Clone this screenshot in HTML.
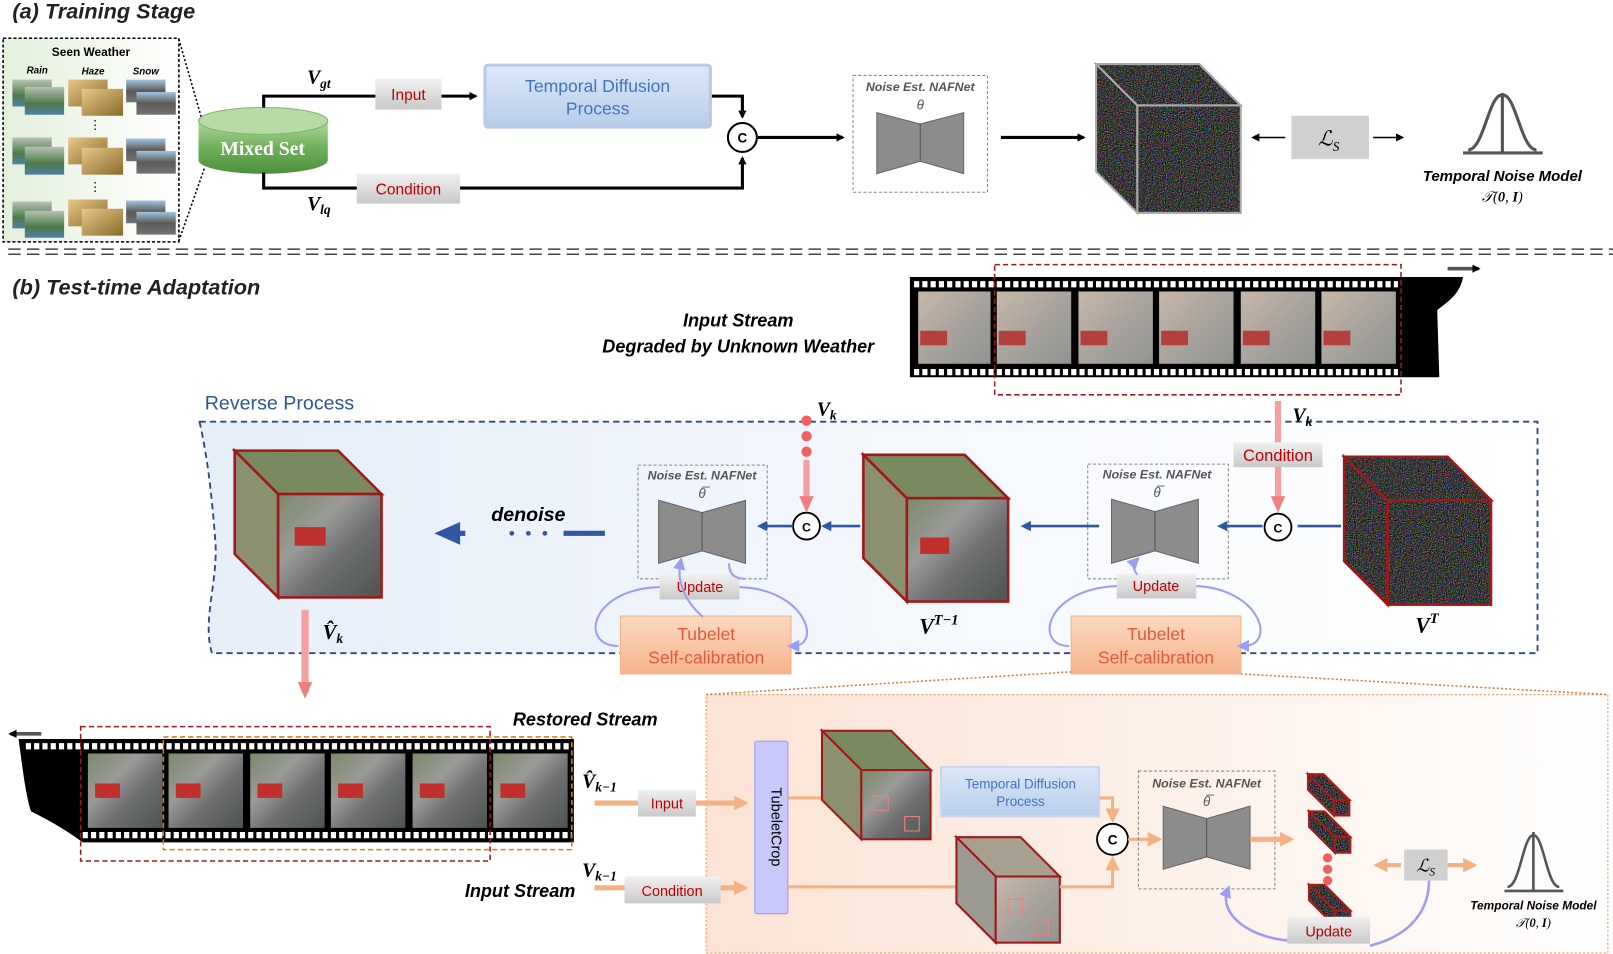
<!DOCTYPE html>
<html><head><meta charset="utf-8"><style>
html,body{margin:0;padding:0;background:#fff;}
svg{display:block;}
text{font-family:"Liberation Sans",sans-serif;}
.bi{font-weight:bold;font-style:italic;}
.ser{font-family:"Liberation Serif",serif;}
</style></head><body>
<svg width="1613" height="954" viewBox="0 0 1560 923" preserveAspectRatio="none" xmlns="http://www.w3.org/2000/svg">
<defs>
<filter id="nz" x="0" y="0" width="100%" height="100%" color-interpolation-filters="sRGB"><feTurbulence type="fractalNoise" baseFrequency="1.1" numOctaves="1" seed="3"/><feColorMatrix type="matrix" values="2.0 0.3 0 0 -0.95  0 2.0 0.3 0 -0.95  0.3 0 2.0 0 -0.95  0 0 0 0 1"/></filter>
<pattern id="np" width="120" height="120" patternUnits="userSpaceOnUse"><rect width="120" height="120" filter="url(#nz)"/></pattern>
<linearGradient id="street" x1="0" y1="0" x2="1" y2="1"><stop offset="0" stop-color="#7c8a6a"/><stop offset="0.35" stop-color="#9a9a98"/><stop offset="0.6" stop-color="#6d6e70"/><stop offset="1" stop-color="#4e5450"/></linearGradient>
<linearGradient id="rainy" x1="0" y1="0" x2="1" y2="1"><stop offset="0" stop-color="#c7b8a8"/><stop offset="0.5" stop-color="#a9a39e"/><stop offset="1" stop-color="#8f9490"/></linearGradient>
<linearGradient id="green" x1="0" y1="0" x2="0" y2="1"><stop offset="0" stop-color="#b2d8a0"/><stop offset="0.5" stop-color="#6fb05a"/><stop offset="1" stop-color="#4d8f3c"/></linearGradient>
<linearGradient id="blueB" x1="0" y1="0" x2="0" y2="1"><stop offset="0" stop-color="#dce8f7"/><stop offset="1" stop-color="#b8cdeb"/></linearGradient>
<linearGradient id="grayB" x1="0" y1="0" x2="0" y2="1"><stop offset="0" stop-color="#f0f0f0"/><stop offset="1" stop-color="#c9c9c9"/></linearGradient>
<linearGradient id="orB" x1="0" y1="0" x2="0" y2="1"><stop offset="0" stop-color="#fcd9c0"/><stop offset="1" stop-color="#f6b48e"/></linearGradient>
<linearGradient id="revBg" x1="0" y1="0" x2="1" y2="0"><stop offset="0" stop-color="#e6eef8"/><stop offset="0.6" stop-color="#f6f9fd"/><stop offset="1" stop-color="#ffffff"/></linearGradient>
<linearGradient id="peach" x1="0" y1="0" x2="1" y2="0"><stop offset="0" stop-color="#fbe3d5"/><stop offset="0.6" stop-color="#fdf3ec"/><stop offset="1" stop-color="#ffffff"/></linearGradient>
<linearGradient id="seenBg" x1="0" y1="0" x2="1" y2="0"><stop offset="0" stop-color="#e4efdc"/><stop offset="1" stop-color="#ffffff"/></linearGradient>
<linearGradient id="haze" x1="0" y1="0" x2="1" y2="1"><stop offset="0" stop-color="#e8c98a"/><stop offset="1" stop-color="#8a6a2a"/></linearGradient>
<linearGradient id="snow" x1="0" y1="0" x2="0" y2="1"><stop offset="0" stop-color="#9fc6e4"/><stop offset="0.5" stop-color="#5d5a55"/><stop offset="1" stop-color="#6f7478"/></linearGradient>
<linearGradient id="rain" x1="0" y1="0" x2="0" y2="1"><stop offset="0" stop-color="#b6c3b4"/><stop offset="0.6" stop-color="#4d7a48"/><stop offset="1" stop-color="#4f7fa8"/></linearGradient>
<marker id="ak" markerWidth="8" markerHeight="8" refX="6" refY="4" orient="auto" markerUnits="userSpaceOnUse"><path d="M0,0 L8,4 L0,8z" fill="#000"/></marker>
<marker id="ab" markerWidth="10" markerHeight="10" refX="7" refY="5" orient="auto" markerUnits="userSpaceOnUse"><path d="M0,0 L10,5 L0,10z" fill="#2f58a0"/></marker>
<marker id="ao" markerWidth="14" markerHeight="14" refX="10" refY="7" orient="auto" markerUnits="userSpaceOnUse"><path d="M0,0 L14,7 L0,14z" fill="#f4b183"/></marker>
<marker id="ap" markerWidth="12" markerHeight="12" refX="6" refY="6" orient="auto" markerUnits="userSpaceOnUse"><path d="M0,0 L12,6 L0,12z" fill="#9e9ef0"/></marker>
<marker id="ar" markerWidth="16" markerHeight="14" refX="10" refY="7" orient="auto" markerUnits="userSpaceOnUse"><path d="M0,0 L16,7 L0,14z" fill="#f08080"/></marker>
</defs>

<!-- (a) -->
<text x="12" y="18" font-size="21" class="bi" fill="#222">(a) Training Stage</text>
<rect x="3" y="37" width="170" height="197" fill="url(#seenBg)" stroke="#000" stroke-dasharray="3,2" stroke-width="1.5"/>
<text x="88" y="54" font-size="11.5" font-weight="bold" text-anchor="middle">Seen Weather</text>
<text x="36" y="71" font-size="9.5" class="bi" text-anchor="middle">Rain</text>
<text x="90" y="72" font-size="9.5" class="bi" text-anchor="middle">Haze</text>
<text x="141" y="72" font-size="9.5" class="bi" text-anchor="middle">Snow</text>
<g>
<rect x="12" y="77" width="38" height="26" fill="url(#rain)"/><rect x="24" y="84" width="38" height="27" fill="url(#rain)"/>
<rect x="66" y="77" width="38" height="26" fill="url(#haze)"/><rect x="79" y="86" width="40" height="26" fill="url(#haze)"/>
<rect x="122" y="77" width="38" height="22" fill="url(#snow)"/><rect x="132" y="89" width="38" height="22" fill="url(#snow)"/>
<rect x="12" y="133" width="38" height="26" fill="url(#rain)"/><rect x="24" y="142" width="38" height="27" fill="url(#rain)"/>
<rect x="66" y="133" width="38" height="26" fill="url(#haze)"/><rect x="79" y="143" width="40" height="26" fill="url(#haze)"/>
<rect x="122" y="134" width="38" height="22" fill="url(#snow)"/><rect x="132" y="146" width="38" height="22" fill="url(#snow)"/>
<rect x="12" y="195" width="38" height="26" fill="url(#rain)"/><rect x="24" y="204" width="38" height="26" fill="url(#rain)"/>
<rect x="66" y="193" width="38" height="26" fill="url(#haze)"/><rect x="79" y="202" width="40" height="26" fill="url(#haze)"/>
<rect x="122" y="194" width="38" height="22" fill="url(#snow)"/><rect x="132" y="205" width="38" height="22" fill="url(#snow)"/>
<text x="92" y="125" font-size="12" text-anchor="middle">⋮</text><text x="92" y="185" font-size="12" text-anchor="middle">⋮</text>
</g>
<path d="M173,38 L198,125 M173,233 L198,162" stroke="#000" stroke-dasharray="2,2" stroke-width="1.5"/>
<path d="M192,117 L192,155 A62,13 0 0 0 317,155 L317,117 Z" fill="url(#green)"/>
<ellipse cx="254.5" cy="117" rx="62.5" ry="13" fill="#b8dba6" stroke="#7ab86a"/>
<text x="254" y="150" class="ser" font-size="19" font-weight="bold" fill="#fff" text-anchor="middle">Mixed Set</text>
<path d="M255,104 L255,93 L460,93" stroke="#000" stroke-width="3" fill="none" marker-end="url(#ak)"/>
<path d="M255,167 L255,182 L718,182 L718,153" stroke="#000" stroke-width="3" fill="none" marker-end="url(#ak)"/>
<path d="M687,93 L718,93 L718,113" stroke="#000" stroke-width="3" fill="none" marker-end="url(#ak)"/>
<text x="297" y="81" class="ser bi" font-size="19">V<tspan font-size="13" dy="4">gt</tspan></text>
<text x="297" y="203" class="ser bi" font-size="19">V<tspan font-size="13" dy="4">lq</tspan></text>
<rect x="363" y="76" width="64" height="30" fill="url(#grayB)"/><text x="395" y="97" font-size="15" fill="#c00000" text-anchor="middle">Input</text>
<rect x="345" y="168" width="100" height="29" fill="url(#grayB)"/><text x="395" y="188" font-size="15" fill="#c00000" text-anchor="middle">Condition</text>
<rect x="469" y="63" width="218" height="60" rx="3" fill="url(#blueB)" stroke="#b9c9e6" stroke-width="3"/>
<text x="578" y="89" font-size="17" fill="#4472c4" text-anchor="middle">Temporal Diffusion</text>
<text x="578" y="111" font-size="17" fill="#4472c4" text-anchor="middle">Process</text>
<circle cx="718" cy="133" r="14" fill="#fff" stroke="#000" stroke-width="2"/><text x="718" y="138" font-size="13" font-weight="bold" text-anchor="middle">C</text>
<path d="M733,133 L815,133" stroke="#000" stroke-width="3" marker-end="url(#ak)"/>
<rect x="825" y="73" width="130" height="113" fill="none" stroke="#888" stroke-dasharray="3,2"/>
<text x="890" y="88" font-size="12" class="bi" fill="#555" text-anchor="middle">Noise Est. NAFNet</text>
<text x="890" y="106" font-size="13" font-style="italic" fill="#555" text-anchor="middle">θ</text>
<path d="M848,109 L890,120 L932,109 L932,168 L890,156 L848,168Z" fill="#8c8c8c" stroke="#666"/><line x1="890" y1="120" x2="890" y2="156" stroke="#555"/>
<path d="M968,133 L1048,133" stroke="#000" stroke-width="3" marker-end="url(#ak)"/>
<g fill="url(#np)" stroke="#aaa" stroke-width="2">
<path d="M1060,62 L1160,62 L1200,102 L1100,102Z"/>
<path d="M1060,62 L1100,102 L1100,206 L1060,166Z"/>
<rect x="1100" y="102" width="100" height="104"/>
</g>
<path d="M1328,133 L1356,133" stroke="#000" stroke-width="1.5" marker-end="url(#ak)"/>
<path d="M1243,133 L1212,133" stroke="#000" stroke-width="1.5" marker-end="url(#ak)"/>
<rect x="1249" y="112" width="75" height="42" fill="#d0d0d0"/>
<text x="1285" y="141" class="ser" font-size="20" font-style="italic" text-anchor="middle">ℒ<tspan font-size="13" dy="5">S</tspan></text>
<path d="M1415,148 L1492,148 M1453,90 L1453,148 M1420,145 C1435,145 1440,90 1453,92 C1466,90 1471,145 1486,145" stroke="#555" stroke-width="3" fill="none"/>
<text x="1453" y="175" class="bi" font-size="14.5" text-anchor="middle">Temporal Noise Model</text>
<text x="1453" y="195" class="ser" font-size="14" font-style="italic" text-anchor="middle">𝒯(<tspan font-weight="bold">0</tspan>, <tspan font-weight="bold">I</tspan>)</text>
<path d="M8,241 L1560,241 M8,246 L1560,246" stroke="#444" stroke-width="1.5" stroke-dasharray="12,6"/>

<!-- (b) -->
<text x="12" y="285" font-size="21" class="bi" fill="#222">(b) Test-time Adaptation</text>
<text x="714" y="316" class="bi" font-size="17.5" text-anchor="middle">Input Stream</text>
<text x="714" y="341" class="bi" font-size="17.5" text-anchor="middle">Degraded by Unknown Weather</text>
<path d="M880,268 L1415,268 C1412,285 1400,292 1390,300 L1392,365 L880,365Z" fill="#000"/>
<path d="M884,275 L1352,275 M884,360 L1352,360" stroke="#fff" stroke-width="6" stroke-dasharray="5,3"/>
<g>
<rect x="888" y="282" width="70" height="70" fill="url(#rainy)"/>
<rect x="964" y="282" width="72" height="70" fill="url(#rainy)"/>
<rect x="1043" y="282" width="72" height="70" fill="url(#rainy)"/>
<rect x="1121" y="282" width="72" height="70" fill="url(#rainy)"/>
<rect x="1200" y="282" width="72" height="70" fill="url(#rainy)"/>
<rect x="1278" y="282" width="72" height="70" fill="url(#rainy)"/>
<g fill="#b3403a"><rect x="890" y="320" width="26" height="14"/><rect x="966" y="320" width="26" height="14"/><rect x="1045" y="320" width="26" height="14"/><rect x="1123" y="320" width="26" height="14"/><rect x="1202" y="320" width="26" height="14"/><rect x="1280" y="320" width="26" height="14"/></g>
</g>
<rect x="962" y="256" width="393" height="126" fill="none" stroke="#a01818" stroke-width="1.5" stroke-dasharray="5,3"/>
<path d="M1400,260 L1430,260" stroke="#555" stroke-width="3.5" marker-end="url(#ak)"/>

<text x="198" y="396" font-size="19" fill="#2e5597">Reverse Process</text>
<path d="M193,408 L1487,408 L1487,632 L205,632 C195,600 212,560 208,520 C204,470 200,440 193,408Z" fill="url(#revBg)" stroke="#2e4a80" stroke-width="1.8" stroke-dasharray="6,4"/>
<g stroke="#a01818" stroke-width="2.5">
<path d="M227,436 L327,436 L369,478 L269,478Z" fill="#7a8a60"/>
<path d="M227,436 L269,478 L269,578 L227,536Z" fill="#8a9070"/>
<rect x="269" y="478" width="100" height="100" fill="url(#street)"/>
</g>
<rect x="285" y="510" width="30" height="18" fill="#c0302c"/>
<text x="511" y="504" class="bi" font-size="19" text-anchor="middle">denoise</text>
<path d="M585,516 L545,516" stroke="#2f58a0" stroke-width="5"/>
<g fill="#2f58a0"><circle cx="495" cy="516" r="2.3"/><circle cx="511" cy="516" r="2.3"/><circle cx="527" cy="516" r="2.3"/></g>
<path d="M450,516 L437,516" stroke="#2f58a0" stroke-width="5"/>
<path d="M445,505 L420,516 L445,527Z" fill="#2f58a0"/>
<rect x="617" y="450" width="125" height="110" fill="none" stroke="#888" stroke-dasharray="3,2"/>
<text x="679" y="464" font-size="12" class="bi" fill="#555" text-anchor="middle">Noise Est. NAFNet</text>
<text x="679" y="482" font-size="13" font-style="italic" fill="#555" text-anchor="middle">θ̅</text>
<path d="M637,484 L679,496 L721,484 L721,545 L679,533 L637,545Z" fill="#8c8c8c" stroke="#666"/><line x1="679" y1="496" x2="679" y2="533" stroke="#555"/>
<rect x="638" y="556" width="77" height="24" fill="url(#grayB)"/><text x="677" y="573" font-size="14" fill="#c00000" text-anchor="middle">Update</text>
<rect x="600" y="596" width="165" height="56" fill="url(#orB)" stroke="#f4b183"/>
<text x="683" y="619" font-size="17" fill="#e05a3a" text-anchor="middle">Tubelet</text>
<text x="683" y="642" font-size="17" fill="#e05a3a" text-anchor="middle">Self-calibration</text>
<path d="M638,568 C570,570 560,625 598,625" stroke="#9e9ef0" stroke-width="2" fill="none"/>
<path d="M715,568 C780,570 795,625 767,625" stroke="#9e9ef0" stroke-width="2" fill="none" marker-end="url(#ap)"/>
<path d="M680,597 C660,580 655,560 658,545" stroke="#9e9ef0" stroke-width="2" fill="none" marker-end="url(#ap)"/>
<path d="M705,545 C705,555 710,560 720,560" stroke="#9e9ef0" stroke-width="2" fill="none"/>
<circle cx="780" cy="509" r="13" fill="#fff" stroke="#000" stroke-width="1.8"/><text x="780" y="514" font-size="12" font-weight="bold" text-anchor="middle">C</text>
<g fill="#f06060"><circle cx="780" cy="407" r="5"/><circle cx="780" cy="422" r="5"/><circle cx="780" cy="437" r="5"/></g>
<path d="M780,445 L780,490" stroke="#f4a0a0" stroke-width="6" marker-end="url(#ar)"/>
<text x="790" y="402" class="ser bi" font-size="19">V<tspan font-size="13" dy="4">k</tspan></text>
<path d="M832,509 L797,509" stroke="#2f58a0" stroke-width="2.5" marker-end="url(#ab)"/>
<path d="M767,509 L735,509" stroke="#2f58a0" stroke-width="2.5" marker-end="url(#ab)"/>
<g stroke="#a01818" stroke-width="2.5">
<path d="M835,440 L933,440 L975,482 L877,482Z" fill="#7a8a60"/>
<path d="M835,440 L877,482 L877,582 L835,540Z" fill="#8a9070"/>
<rect x="877" y="482" width="98" height="100" fill="url(#street)"/>
</g>
<rect x="890" y="520" width="28" height="16" fill="#c0302c"/>
<text x="908" y="613" class="ser bi" font-size="21" text-anchor="middle">V<tspan font-size="14" dy="-9">T−1</tspan></text>
<path d="M1063,509 L990,509" stroke="#2f58a0" stroke-width="2.5" marker-end="url(#ab)"/>
<rect x="1052" y="449" width="136" height="111" fill="none" stroke="#888" stroke-dasharray="3,2"/>
<text x="1119" y="463" font-size="12" class="bi" fill="#555" text-anchor="middle">Noise Est. NAFNet</text>
<text x="1119" y="481" font-size="13" font-style="italic" fill="#555" text-anchor="middle">θ̅</text>
<path d="M1075,483 L1117,495 L1159,483 L1159,545 L1117,533 L1075,545Z" fill="#8c8c8c" stroke="#666"/><line x1="1117" y1="495" x2="1117" y2="533" stroke="#555"/>
<rect x="1080" y="555" width="77" height="24" fill="url(#grayB)"/><text x="1118" y="572" font-size="14" fill="#c00000" text-anchor="middle">Update</text>
<rect x="1036" y="596" width="164" height="56" fill="url(#orB)" stroke="#f4b183"/>
<text x="1118" y="619" font-size="17" fill="#e05a3a" text-anchor="middle">Tubelet</text>
<text x="1118" y="642" font-size="17" fill="#e05a3a" text-anchor="middle">Self-calibration</text>
<path d="M1080,567 C1010,570 1000,625 1034,625" stroke="#9e9ef0" stroke-width="2" fill="none"/>
<path d="M1157,567 C1220,570 1235,625 1202,625" stroke="#9e9ef0" stroke-width="2" fill="none" marker-end="url(#ap)"/>
<path d="M1100,556 C1095,550 1096,545 1098,543" stroke="#9e9ef0" stroke-width="2" fill="none" marker-end="url(#ap)"/>
<circle cx="1236" cy="510" r="13" fill="#fff" stroke="#000" stroke-width="1.8"/><text x="1236" y="515" font-size="12" font-weight="bold" text-anchor="middle">C</text>
<path d="M1236,388 L1236,490" stroke="#f4a0a0" stroke-width="6" marker-end="url(#ar)"/>
<rect x="1193" y="428" width="86" height="24" fill="url(#grayB)"/><text x="1236" y="446" font-size="16" fill="#c00000" text-anchor="middle">Condition</text>
<text x="1250" y="408" class="ser bi" font-size="19">V<tspan font-size="13" dy="4">k</tspan></text>
<path d="M1297,509 L1255,509" stroke="#2f58a0" stroke-width="2.5"/>
<path d="M1221,509 L1180,509" stroke="#2f58a0" stroke-width="2.5" marker-end="url(#ab)"/>
<g fill="url(#np)" stroke="#a01818" stroke-width="2.5">
<path d="M1300,442 L1400,442 L1442,484 L1342,484Z"/>
<path d="M1300,442 L1342,484 L1342,585 L1300,543Z"/>
<rect x="1342" y="484" width="100" height="101"/>
</g>
<text x="1380" y="612" class="ser bi" font-size="21" text-anchor="middle">V<tspan font-size="14" dy="-9">T</tspan></text>
<path d="M295,590 L295,670" stroke="#f4a0a0" stroke-width="7" marker-end="url(#ar)"/>
<text x="312" y="618" class="ser bi" font-size="20">V̂<tspan font-size="13" dy="4">k</tspan></text>

<path d="M683,672 L1555,672 L1555,922 L683,922Z" fill="url(#peach)" stroke="#f0a070" stroke-width="1.2" stroke-dasharray="2,2"/>
<path d="M683,672 L1036,650 M1200,652 L1555,672" stroke="#e07a3a" stroke-width="1.5" stroke-dasharray="2,2"/>
<path d="M18,715 L555,715 L555,815 L80,815 C60,800 40,790 30,785 C25,770 22,745 18,715Z" fill="#000"/>
<path d="M25,722 L553,722 M80,808 L553,808" stroke="#fff" stroke-width="6" stroke-dasharray="5,3"/>
<g>
<rect x="85" y="729" width="72" height="72" fill="url(#street)"/>
<rect x="163" y="729" width="72" height="72" fill="url(#street)"/>
<rect x="242" y="729" width="72" height="72" fill="url(#street)"/>
<rect x="320" y="729" width="72" height="72" fill="url(#street)"/>
<rect x="399" y="729" width="72" height="72" fill="url(#street)"/>
<rect x="477" y="729" width="72" height="72" fill="url(#street)"/>
<g fill="#c0302c"><rect x="92" y="758" width="24" height="14"/><rect x="170" y="758" width="24" height="14"/><rect x="249" y="758" width="24" height="14"/><rect x="327" y="758" width="24" height="14"/><rect x="406" y="758" width="24" height="14"/><rect x="484" y="758" width="24" height="14"/></g>
</g>
<rect x="78" y="703" width="396" height="130" fill="none" stroke="#a01818" stroke-width="1.5" stroke-dasharray="5,3"/>
<rect x="158" y="713" width="395" height="109" fill="none" stroke="#e07a20" stroke-width="1.5" stroke-dasharray="5,3"/>
<path d="M40,710 L10,710" stroke="#555" stroke-width="3.5" marker-end="url(#ak)"/>
<text x="566" y="702" class="bi" font-size="17.5" text-anchor="middle">Restored Stream</text>
<text x="563" y="762" class="ser bi" font-size="19">V̂<tspan font-size="13" dy="4">k−1</tspan></text>
<text x="563" y="848" class="ser bi" font-size="19">V<tspan font-size="13" dy="4">k−1</tspan></text>
<text x="503" y="868" class="bi" font-size="17.5" text-anchor="middle">Input Stream</text>
<path d="M575,777 L720,777" stroke="#f4b183" stroke-width="5" marker-end="url(#ao)"/>
<path d="M575,859 L720,859" stroke="#f4b183" stroke-width="5" marker-end="url(#ao)"/>
<rect x="617" y="764" width="56" height="26" fill="url(#grayB)"/><text x="645" y="782" font-size="14" fill="#c00000" text-anchor="middle">Input</text>
<rect x="604" y="848" width="93" height="26" fill="url(#grayB)"/><text x="650" y="867" font-size="14" fill="#c00000" text-anchor="middle">Condition</text>
<rect x="730" y="717" width="32" height="167" rx="2" fill="#c8c8fa" stroke="#9a9ae8"/>
<text x="746" y="800" font-size="14" text-anchor="middle" transform="rotate(90 746 800)">TubeletCrop</text>
<path d="M762,772 L797,772 M762,858 L925,858" stroke="#f4b183" stroke-width="3"/>
<g stroke="#a01818" stroke-width="2">
<path d="M795,707 L862,707 L900,745 L833,745Z" fill="#7a8a60"/>
<path d="M795,707 L833,745 L833,812 L795,774Z" fill="#8a9070"/>
<rect x="833" y="745" width="67" height="67" fill="url(#street)"/>
<path d="M925,810 L987,810 L1025,848 L963,848Z" fill="#a8a090"/>
<path d="M925,810 L963,848 L963,912 L925,874Z" fill="#9a9a90"/>
<rect x="963" y="848" width="62" height="64" fill="url(#rainy)"/>
</g>
<g fill="none" stroke="#f08080" stroke-width="1"><rect x="845" y="770" width="14" height="14"/><rect x="875" y="790" width="14" height="14"/><rect x="975" y="870" width="14" height="14"/><rect x="1000" y="890" width="14" height="14"/></g>
<rect x="910" y="742" width="153" height="48" fill="url(#blueB)" stroke="#c8d6ee" stroke-width="2"/>
<text x="987" y="763" font-size="13" fill="#4472c4" text-anchor="middle">Temporal Diffusion</text>
<text x="987" y="780" font-size="13" fill="#4472c4" text-anchor="middle">Process</text>
<path d="M1063,772 L1076,772 L1076,792" stroke="#f4b183" stroke-width="3" fill="none" marker-end="url(#ao)"/>
<path d="M1025,858 L1076,858 L1076,832" stroke="#f4b183" stroke-width="3" fill="none" marker-end="url(#ao)"/>
<circle cx="1076" cy="812" r="15" fill="#fff" stroke="#000" stroke-width="1.8"/><text x="1076" y="817" font-size="13" font-weight="bold" text-anchor="middle">C</text>
<path d="M1091,812 L1120,812" stroke="#f4b183" stroke-width="3" marker-end="url(#ao)"/>
<rect x="1101" y="746" width="132" height="114" fill="none" stroke="#888" stroke-dasharray="3,2"/>
<text x="1167" y="762" font-size="12" class="bi" fill="#555" text-anchor="middle">Noise Est. NAFNet</text>
<text x="1167" y="780" font-size="13" font-style="italic" fill="#555" text-anchor="middle">θ̅</text>
<path d="M1125,780 L1167,792 L1209,780 L1209,841 L1167,829 L1125,841Z" fill="#8c8c8c" stroke="#666"/><line x1="1167" y1="792" x2="1167" y2="829" stroke="#555"/>
<path d="M1209,812 L1248,812" stroke="#f4b183" stroke-width="5" marker-end="url(#ao)"/>
<g stroke="#b01818" stroke-width="2" fill="url(#np)">
<path d="M1265,749 L1280,749 L1305,774 L1290,774Z"/>
<rect x="1290" y="774" width="15" height="15"/>
<path d="M1265,749 L1290,774 L1290,789 L1265,764Z"/>
<path d="M1266,785 L1281,785 L1306,810 L1291,810Z"/>
<rect x="1291" y="810" width="15" height="15"/>
<path d="M1266,785 L1291,810 L1291,825 L1266,800Z"/>
<path d="M1266,856 L1281,856 L1306,881 L1291,881Z"/>
<rect x="1291" y="881" width="15" height="15"/>
<path d="M1266,856 L1291,881 L1291,896 L1266,871Z"/>
</g>
<g fill="#f06060"><circle cx="1284" cy="830" r="4.5"/><circle cx="1284" cy="841" r="4.5"/><circle cx="1284" cy="852" r="4.5"/></g>
<path d="M1355,837 L1332,837" stroke="#f4b183" stroke-width="4" marker-end="url(#ao)"/>
<path d="M1400,837 L1425,837" stroke="#f4b183" stroke-width="4" marker-end="url(#ao)"/>
<rect x="1358" y="822" width="42" height="30" fill="#d0d0d0"/>
<text x="1379" y="843" class="ser" font-size="17" font-style="italic" text-anchor="middle">ℒ<tspan font-size="11" dy="4">S</tspan></text>
<path d="M1455,862 L1512,862 M1483,805 L1483,862 M1458,858 C1470,858 1473,808 1483,808 C1493,808 1496,858 1508,858" stroke="#555" stroke-width="2.5" fill="none"/>
<text x="1483" y="880" class="bi" font-size="11.5" text-anchor="middle">Temporal Noise Model</text>
<text x="1483" y="897" class="ser" font-size="12" font-style="italic" text-anchor="middle">𝒯(<tspan font-weight="bold">0</tspan>, <tspan font-weight="bold">I</tspan>)</text>
<path d="M1245,910 C1200,905 1180,880 1187,862" stroke="#9e9ef0" stroke-width="2.5" fill="none" marker-end="url(#ap)"/>
<path d="M1325,915 C1365,905 1382,880 1382,852" stroke="#9e9ef0" stroke-width="2.5" fill="none"/>
<rect x="1245" y="887" width="80" height="26" fill="url(#grayB)"/><text x="1285" y="906" font-size="14" fill="#c00000" text-anchor="middle">Update</text>
</svg>
</body></html>
